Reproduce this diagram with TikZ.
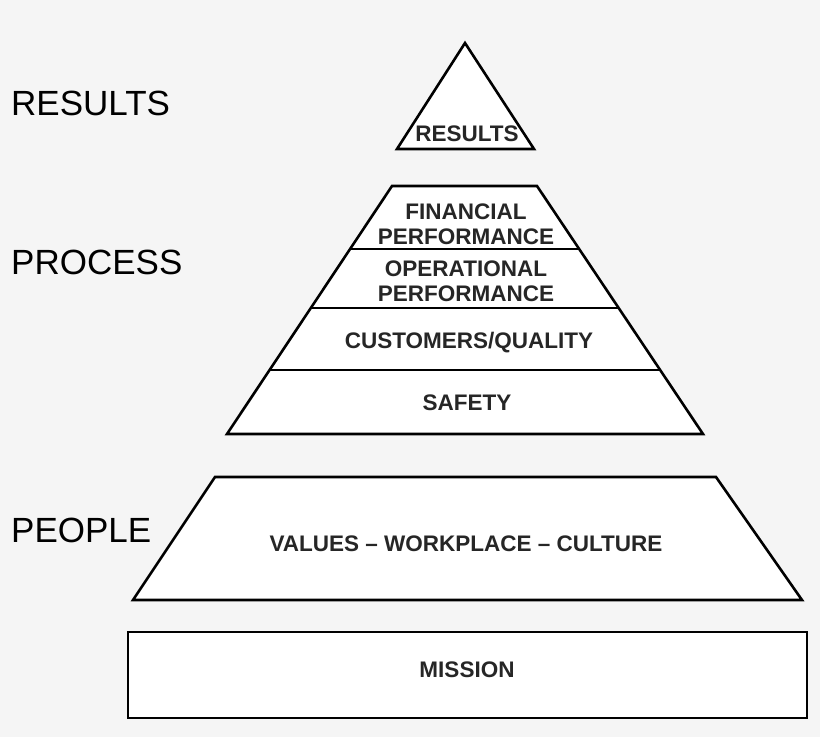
\documentclass[tikz,border=0pt]{standalone}
\usepackage{fontspec}
\setmainfont{Liberation Sans}
\definecolor{bg}{HTML}{F5F5F5}
\begin{document}
\begin{tikzpicture}[x=1pt,y=-1pt,
  shp/.style={draw=black,fill=white,line width=2.6pt,line join=miter},
  inlbl/.style={font=\fontsize{22.5}{25.5}\selectfont\bfseries,text=black!85,align=center,inner sep=0pt},
  sidelbl/.style={font=\fontsize{35}{38}\selectfont,anchor=west,text=black,inner sep=0pt}]
\fill[bg] (0,0) rectangle (820,737);
\useasboundingbox (0,0) rectangle (820,737);
% results triangle
\draw[shp] (465,43) -- (534,149) -- (397,149) -- cycle;
% process trapezoid
\draw[shp] (392,186) -- (537,186) -- (703,434) -- (227,434) -- cycle;
\draw[line width=2.6pt] (350,249) -- (578,249);
\draw[line width=2.6pt] (311,308) -- (618,308);
\draw[line width=2.6pt] (270,370) -- (660,370);
% people trapezoid
\draw[shp] (215,477) -- (716,477) -- (802,600) -- (133,600) -- cycle;
% mission
\draw[shp] (128,632) rectangle (807,718);
% inner labels
\node[inlbl] (res) at (467,134) {RESULTS};
\node[inlbl] (fin) at (466,224) {FINANCIAL\\PERFORMANCE};
\node[inlbl] (ops) at (466,281) {OPERATIONAL\\PERFORMANCE};
\node[inlbl] (cq) at (469,343) {CUSTOMERS/QUALITY};
\node[inlbl] (saf) at (467,403) {SAFETY};
\node[inlbl] (vwc) at (466,544) {VALUES -- WORKPLACE -- CULTURE};
\node[inlbl] (mis) at (467,670) {MISSION};
% side labels
\node[sidelbl] (sres) at (11,103) {RESULTS};
\node[sidelbl] (spro) at (11,262) {PROCESS};
\node[sidelbl] (speo) at (11,530) {PEOPLE};
\end{tikzpicture}
\end{document}
